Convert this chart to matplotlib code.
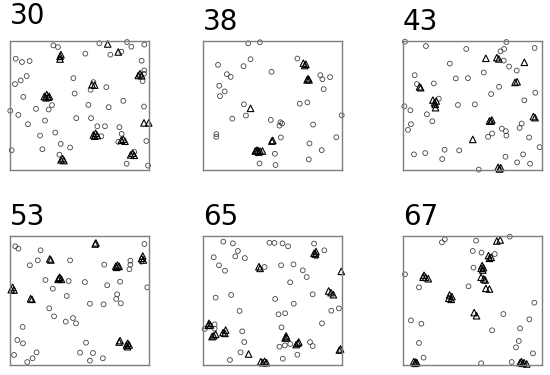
import numpy as np
import matplotlib
matplotlib.use("Agg")
import matplotlib.pyplot as plt

# panel labels
labels = ["30", "38", "43", "53", "65", "67"]

# points, (x, y) on a 0-100 square
circles_30 = [(31.2, 96.6), (34.5, 95.3), (64.3, 98.2), (84.2, 99.2), (87.3, 95.6), (96.6, 97.2),
              (80.1, 91.7), (54.2, 90.2), (72.2, 89.4), (4.1, 86.3), (8.6, 83.7), (14.1, 84.5),
              (94.7, 84.7), (96.6, 77.2), (96.4, 74.6), (95.4, 68.9), (45.6, 71.2), (12.0, 72.8),
              (7.7, 69.4), (3.6, 66.6), (60.0, 68.1), (58.0, 62.2), (69.3, 64.2), (46.5, 59.3),
              (9.6, 56.7), (81.5, 53.6), (30.2, 50.3), (27.8, 46.9), (18.7, 47.4), (56.4, 50.5),
              (71.0, 48.7), (96.4, 49.2), (0.2, 45.9), (6.0, 42.7), (47.7, 40.2), (58.3, 40.2),
              (25.2, 38.3), (12.9, 35.5), (62.8, 33.9), (68.3, 33.9), (78.7, 33.2), (80.3, 28.0),
              (32.6, 29.0), (21.6, 26.7), (65.7, 26.2), (77.9, 21.8), (36.5, 20.2), (43.2, 17.4),
              (98.1, 22.5), (1.2, 15.3), (23.3, 16.1), (35.5, 11.9), (89.4, 14.0), (83.9, 4.9),
              (99.3, 3.4)]
triangles_30 = [(36.0, 88.1), (36.0, 86.0), (36.7, 89.4), (70.3, 97.7), (77.9, 91.5),
                (92.3, 73.3), (93.5, 74.6), (94.7, 73.1), (59.0, 66.1), (60.9, 65.8),
                (24.7, 57.0), (26.4, 58.5), (27.6, 56.5), (25.9, 56.0), (28.3, 57.0),
                (60.0, 27.2), (61.6, 28.5), (62.8, 26.7), (60.9, 26.2),
                (80.1, 23.1), (81.5, 23.8), (82.7, 22.3), (96.4, 36.5), (99.8, 36.5),
                (86.8, 11.7), (88.2, 13.0), (89.4, 11.4), (36.7, 7.8), (37.9, 8.8), (38.8, 7.3)]

circles_38 = [(32.5, 98.2), (40.9, 99.0), (34.2, 85.9), (29.2, 80.5), (10.8, 81.5), (49.3, 76.1),
              (17.2, 74.3), (19.9, 72.2), (67.9, 86.4), (84.4, 73.5), (85.9, 70.4), (91.4, 72.0),
              (86.8, 62.7), (11.7, 65.3), (15.6, 60.9), (12.2, 57.3), (29.4, 50.9), (30.9, 42.2),
              (21.1, 39.8), (69.6, 51.4), (75.1, 52.4), (99.8, 42.4), (48.8, 38.8), (55.7, 37.0),
              (56.9, 36.0), (55.0, 34.4), (79.2, 35.2), (9.6, 27.8), (9.6, 25.7), (56.0, 25.2),
              (95.9, 25.4), (76.6, 20.6), (85.4, 15.4), (51.7, 12.6), (40.7, 5.1), (52.2, 3.9),
              (76.1, 8.2), (38.8, 12.9)]
triangles_38 = [(34.2, 47.8), (72.2, 82.8), (73.2, 81.0), (74.0, 82.0),
                (75.6, 70.7), (76.3, 69.9), (74.9, 69.9), (49.5, 22.4), (50.2, 22.9),
                (37.6, 14.7), (39.5, 15.2), (41.1, 14.7), (42.8, 14.7), (40.2, 13.9), (38.5, 15.2)]

circles_43 = [(1.4, 99.5), (16.5, 96.1), (45.5, 93.8), (74.4, 99.2), (72.7, 93.8), (70.1, 92.0),
              (94.7, 94.6), (72.5, 84.8), (76.3, 80.2), (81.8, 77.1), (33.7, 82.5), (8.4, 73.5),
              (58.1, 75.6), (38.0, 71.0), (46.7, 71.2), (22.2, 67.1), (10.0, 66.6), (69.1, 64.5),
              (63.4, 58.9), (95.2, 59.9), (87.3, 54.0), (1.0, 49.4), (5.3, 46.3), (39.5, 50.4),
              (51.7, 50.9), (17.2, 43.2), (21.1, 37.8), (5.7, 35.5), (3.6, 31.1), (71.1, 32.1),
              (74.0, 30.1), (74.4, 26.7), (64.1, 28.3), (61.2, 25.7), (85.4, 36.0), (83.9, 32.6),
              (90.7, 25.2), (98.3, 17.7), (7.9, 12.1), (16.0, 13.1), (29.9, 15.7), (40.4, 15.2),
              (28.2, 8.5), (73.7, 10.3), (86.4, 12.1), (82.1, 5.9), (91.4, 4.9), (54.5, 0.3),
              (25.8, 55.3)]
triangles_43 = [(59.6, 86.6), (67.5, 87.1), (68.9, 86.1), (87.3, 83.5), (80.6, 67.9), (82.1, 68.4),
                (11.9, 64.5), (12.7, 63.8), (21.5, 54.2), (23.9, 53.5), (23.2, 50.9), (23.4, 48.3),
                (22.7, 52.2), (63.2, 37.8), (63.9, 38.8), (62.2, 38.0), (50.2, 23.7),
                (93.8, 41.4), (95.0, 40.6), (69.4, 0.8), (68.4, 2.1), (70.3, 1.8)]

circles_53 = [(3.8, 92.0), (6.0, 90.2), (22.0, 88.9), (20.0, 81.1), (14.3, 77.3), (43.2, 81.1),
              (67.8, 77.8), (96.7, 93.8), (86.6, 80.9), (86.6, 77.8), (85.9, 74.2), (94.5, 80.1),
              (25.5, 65.9), (42.2, 65.1), (53.9, 64.3), (30.8, 59.2), (69.9, 61.8), (79.2, 64.6),
              (98.8, 60.2), (40.8, 53.5), (77.1, 54.8), (76.4, 51.2), (79.7, 47.8), (57.5, 47.5),
              (67.3, 47.0), (28.2, 43.9), (31.7, 37.7), (40.1, 33.6), (45.3, 36.4), (47.5, 32.3),
              (9.1, 29.5), (5.3, 19.4), (9.3, 16.8), (54.7, 17.3), (2.9, 7.8), (19.1, 9.8),
              (16.2, 5.2), (12.4, 2.3), (50.4, 9.6), (59.7, 9.3), (66.8, 5.2), (57.5, 3.4)]
triangles_53 = [(61.8, 94.6), (61.3, 93.8), (28.6, 82.2), (29.4, 81.4),
                (77.3, 77.5), (76.1, 76.5), (78.5, 76.5), (76.8, 75.7),
                (95.5, 84.5), (94.7, 82.7), (95.9, 81.4),
                (35.8, 68.0), (34.6, 66.4), (37.0, 66.4), (35.3, 67.2),
                (1.9, 60.2), (0.9, 58.4), (2.9, 58.1), (14.8, 51.4), (15.8, 50.9),
                (79.2, 18.9), (78.5, 17.8), (84.7, 16.8), (83.8, 15.5), (85.7, 15.5), (84.5, 14.2)]

circles_65 = [(14.6, 95.6), (21.5, 94.3), (47.8, 94.8), (51.4, 94.6), (57.2, 94.3), (61.2, 92.0),
              (79.9, 94.1), (87.3, 88.9), (25.1, 88.4), (23.2, 84.2), (30.1, 82.9), (7.7, 83.5),
              (11.5, 77.3), (15.8, 73.1), (44.3, 76.0), (56.2, 77.3), (65.1, 78.0), (71.8, 73.4),
              (74.6, 68.2), (62.7, 64.1), (81.3, 84.2), (9.1, 52.2), (20.3, 54.3), (51.9, 51.2),
              (65.3, 47.5), (78.9, 54.8), (97.8, 43.9), (92.3, 42.1), (26.3, 41.9), (54.3, 39.3),
              (59.1, 40.1), (85.6, 32.3), (1.2, 27.9), (8.4, 31.5), (8.4, 28.2), (56.5, 29.2),
              (28.2, 26.1), (29.7, 17.8), (55.0, 14.2), (58.9, 15.2), (62.7, 16.3), (77.0, 17.8),
              (78.9, 14.7), (67.9, 8.0), (27.0, 9.8), (19.4, 3.9), (57.4, 4.9)]
triangles_65 = [(79.9, 86.6), (81.3, 87.9), (80.9, 86.0), (40.2, 76.2), (41.1, 74.9), (99.5, 72.6),
                (90.4, 57.4), (92.1, 56.1), (93.8, 54.5), (4.3, 32.3), (3.8, 30.7), (5.3, 31.0),
                (7.7, 22.7), (9.1, 23.8), (6.5, 22.0), (14.4, 25.1), (16.3, 27.1), (15.8, 24.5),
                (59.8, 22.5), (60.3, 21.2), (59.1, 20.9), (68.2, 16.8), (67.0, 15.8), (68.9, 17.8),
                (32.8, 8.5), (41.6, 2.6), (43.1, 1.8), (45.7, 1.8), (44.3, 2.8),
                (98.1, 11.6), (99.0, 12.4)]

circles_67 = [(30.1, 97.4), (28.0, 95.1), (52.6, 96.4), (76.8, 99.5), (50.2, 88.4), (56.5, 87.1),
              (66.0, 86.0), (50.7, 75.5), (1.4, 70.3), (11.5, 60.2), (47.1, 61.0), (94.5, 48.3),
              (72.2, 39.5), (90.9, 35.4), (5.7, 34.6), (13.2, 32.0), (64.1, 26.9), (84.2, 28.4),
              (83.3, 18.6), (81.3, 13.7), (11.5, 17.1), (93.5, 9.0), (14.8, 5.7), (78.2, 2.3),
              (56.2, 1.3)]
triangles_67 = [(67.5, 96.1), (69.9, 96.9), (61.5, 84.8), (63.4, 83.5), (62.2, 82.7),
                (56.9, 77.0), (56.2, 74.9), (57.9, 75.5), (57.4, 73.6),
                (56.2, 68.0), (58.1, 66.7), (59.1, 65.9), (59.6, 59.4), (62.2, 58.9),
                (15.1, 69.5), (16.3, 68.0), (18.2, 66.9), (14.4, 68.0),
                (33.5, 54.3), (35.2, 53.0), (34.7, 50.9), (33.0, 51.7), (51.2, 40.6), (52.9, 38.2),
                (7.7, 2.6), (9.1, 2.3), (10.0, 1.8), (8.6, 1.3),
                (85.2, 2.6), (87.1, 1.8), (89.0, 0.8), (86.1, 1.3), (84.2, 1.8)]

circles = [circles_30, circles_38, circles_43, circles_53, circles_65, circles_67]
triangles = [triangles_30, triangles_38, triangles_43, triangles_53, triangles_65, triangles_67]

fig = plt.figure(figsize=(5.5, 3.75), dpi=100)

lefts = [10, 203, 403]
tops = [41, 236]
w, h = 139, 129

for i, lab in enumerate(labels):
    r, c = divmod(i, 3)
    ax = fig.add_axes([lefts[c] / 550, 1 - (tops[r] + h) / 375, w / 550, h / 375])
    cx, cy = np.array(circles[i]).T
    tx, ty = np.array(triangles[i]).T
    ax.scatter(cx, cy, s=12, marker='o', facecolors='none', edgecolors='#444444',
               linewidths=0.6, clip_on=False)
    ax.scatter(tx, ty, s=22, marker='^', facecolors='none', edgecolors='black',
               linewidths=0.8, clip_on=False)
    ax.set_xlim(0, 100)
    ax.set_ylim(0, 100)
    ax.set_xticks([])
    ax.set_yticks([])
    for sp in ax.spines.values():
        sp.set_color('#7f7f7f')
        sp.set_linewidth(1.0)
    ax.set_title(lab, loc='left', fontsize=20, pad=12 if i == 0 else 8)

fig.savefig('out.png', dpi=100)
